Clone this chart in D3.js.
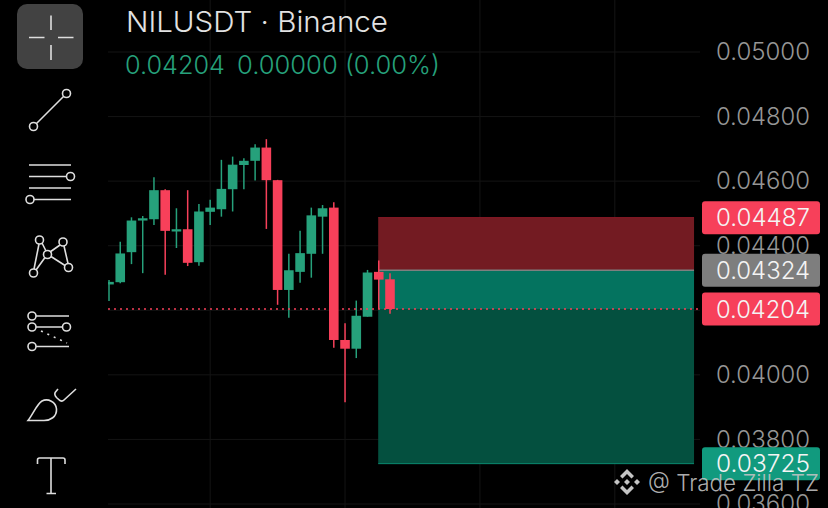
<!DOCTYPE html>
<html>
<head>
<meta charset="utf-8">
<script src="https://cdn.jsdelivr.net/npm/d3@7"></script>
<style>
  html, body { margin: 0; padding: 0; background: #000; overflow: hidden; }
  svg { display: block; }
  text { font-family: "Inter", "Roboto", sans-serif; font-weight: 300; }
</style>
</head>
<body>
<svg id="chart" width="828" height="508"></svg>
<script>
var opens  = [0.04280, 0.04287, 0.04380, 0.04478, 0.04482, 0.04572, 0.04444, 0.04451, 0.04349, 0.04505, 0.04513, 0.04575, 0.04650, 0.04663, 0.04704, 0.04603, 0.04263, 0.04319, 0.04375, 0.04490, 0.04518, 0.04108, 0.04081, 0.04180, 0.04319, 0.04296];
var highs  = [0.04294, 0.04412, 0.04488, 0.04492, 0.04612, 0.04575, 0.04516, 0.04572, 0.04529, 0.04542, 0.04666, 0.04676, 0.04671, 0.04714, 0.04730, 0.04604, 0.04375, 0.04446, 0.04518, 0.04526, 0.04535, 0.04160, 0.04230, 0.04325, 0.04354, 0.04315];
var lows   = [0.04229, 0.04284, 0.04343, 0.04315, 0.04464, 0.04310, 0.04393, 0.04337, 0.04338, 0.04464, 0.04490, 0.04506, 0.04575, 0.04602, 0.04452, 0.04217, 0.04177, 0.04285, 0.04301, 0.04375, 0.04084, 0.03915, 0.04052, 0.04180, 0.04204, 0.04189];
var closes = [0.04288, 0.04376, 0.04478, 0.04485, 0.04572, 0.04446, 0.04451, 0.04347, 0.04506, 0.04518, 0.04576, 0.04651, 0.04663, 0.04704, 0.04603, 0.04263, 0.04324, 0.04377, 0.04494, 0.04516, 0.04108, 0.04081, 0.04183, 0.04317, 0.04295, 0.04204];

var priceTicks = [0.05, 0.048, 0.046, 0.044, 0.04, 0.038, 0.036];
var gridPrices = [0.05, 0.048, 0.046, 0.044, 0.042, 0.04, 0.038, 0.036];
var gridBars = [9, 21, 33, 45];

var lastPrice = 0.04204;
var stopPrice = 0.04487;
var entryPrice = 0.04324;
var targetPrice = 0.03725;
var boxStart = 23.95, boxEnd = 52.05;

var green = "#26a17b", red = "#f7405a";

var svg = d3.select("#chart");

var x = d3.scaleLinear().domain([0, 25]).range([109, 390]);
var y = d3.scaleLinear().domain([0.05, 0.036]).range([52, 504]);
var fmt = d3.format(".5f");

svg.append("clipPath").attr("id", "plot")
  .append("rect").attr("x", 108).attr("y", 0).attr("width", 720).attr("height", 508);

// grid
var grid = svg.append("g").attr("stroke", "#141414").attr("stroke-width", 1);
grid.selectAll(".h").data(gridPrices).enter().append("line")
  .attr("x1", 108).attr("x2", 700)
  .attr("y1", d => y(d)).attr("y2", d => y(d));
grid.selectAll(".v").data(gridBars).enter().append("line")
  .attr("x1", d => x(d)).attr("x2", d => x(d))
  .attr("y1", 0).attr("y2", 508);

// long position box
var box = svg.append("g");
box.append("rect")
  .attr("x", x(boxStart)).attr("width", x(boxEnd) - x(boxStart))
  .attr("y", y(stopPrice)).attr("height", y(entryPrice) - y(stopPrice))
  .attr("fill", "#731b22");
box.append("line")
  .attr("x1", x(boxStart)).attr("x2", x(boxEnd))
  .attr("y1", y(stopPrice)).attr("y2", y(stopPrice))
  .attr("stroke", "#8c1a27").attr("stroke-width", 1);
box.append("rect")
  .attr("x", x(boxStart)).attr("width", x(boxEnd) - x(boxStart))
  .attr("y", y(entryPrice)).attr("height", y(lastPrice) - y(entryPrice))
  .attr("fill", "#04735f");
box.append("rect")
  .attr("x", x(boxStart)).attr("width", x(boxEnd) - x(boxStart))
  .attr("y", y(lastPrice)).attr("height", y(targetPrice) - y(lastPrice))
  .attr("fill", "#04503f");
box.append("line")
  .attr("x1", x(boxStart)).attr("x2", x(boxEnd))
  .attr("y1", y(entryPrice)).attr("y2", y(entryPrice))
  .attr("stroke", "#7f7f7f").attr("stroke-width", 1.5);
box.append("line")
  .attr("x1", x(boxStart)).attr("x2", x(boxEnd))
  .attr("y1", y(targetPrice)).attr("y2", y(targetPrice))
  .attr("stroke", "#0a8a70").attr("stroke-width", 1);

// candles
var candles = svg.append("g").attr("clip-path", "url(#plot)");
var bars = candles.selectAll("g").data(opens).enter().append("g")
  .attr("fill", (d, i) => closes[i] >= d ? green : red)
  .attr("stroke", (d, i) => closes[i] >= d ? green : red);
bars.append("line")
  .attr("x1", (d, i) => x(i)).attr("x2", (d, i) => x(i))
  .attr("y1", (d, i) => y(highs[i])).attr("y2", (d, i) => y(lows[i]))
  .attr("stroke-width", 1.5);
bars.append("rect")
  .attr("stroke", "none")
  .attr("x", (d, i) => x(i) - 4.8).attr("width", 9.6)
  .attr("y", (d, i) => y(Math.max(d, closes[i])))
  .attr("height", (d, i) => Math.abs(y(d) - y(closes[i])));

// last price line
svg.append("line")
  .attr("x1", 108).attr("x2", 700)
  .attr("y1", y(lastPrice)).attr("y2", y(lastPrice))
  .attr("stroke", red).attr("stroke-width", 1.5)
  .attr("stroke-dasharray", "2 4");

// price axis
var axis = d3.axisRight(y).tickValues(priceTicks).tickFormat(fmt).tickSize(0).tickPadding(0);
var axisG = svg.append("g").attr("transform", "translate(716,0)").call(axis);
axisG.select(".domain").remove();
axisG.selectAll("text")
  .attr("fill", "#969696")
  .style("font-size", "24px")
  .style("font-family", "Inter, Roboto, sans-serif")
  .style("font-weight", 300)
  .attr("textLength", 94).attr("lengthAdjust", "spacingAndGlyphs");

// price tags
var tagPrices = [stopPrice, entryPrice, lastPrice, targetPrice];
var tagColors = [red, "#7e7e7e", red, "#119a7e"];
var tags = svg.selectAll(".tag").data(tagPrices).enter().append("g").classed("tag", true);
tags.append("rect")
  .attr("x", 702).attr("width", 118)
  .attr("y", d => y(d) - 16.5).attr("height", 33)
  .attr("rx", 3)
  .attr("fill", (d, i) => tagColors[i]);
tags.append("text")
  .attr("x", 716).attr("y", d => y(d) + 8.7)
  .attr("fill", "#f4f4f4")
  .attr("font-size", 24)
  .attr("textLength", 94).attr("lengthAdjust", "spacingAndGlyphs")
  .text(d => fmt(d));

// header
svg.append("text").attr("x", 126).attr("y", 32)
  .attr("fill", "#e2e2e2").attr("font-size", 29)
  .attr("textLength", 262).attr("lengthAdjust", "spacingAndGlyphs")
  .text("NILUSDT · Binance");
svg.append("text").attr("x", 125).attr("y", 73.5)
  .attr("fill", green).attr("font-size", 25)
  .attr("textLength", 100).attr("lengthAdjust", "spacingAndGlyphs")
  .text(fmt(lastPrice));
svg.append("text").attr("x", 237).attr("y", 73.5)
  .attr("fill", green).attr("font-size", 25)
  .attr("textLength", 203).attr("lengthAdjust", "spacingAndGlyphs")
  .text("0.00000 (0.00%)");

// toolbar
var tools = svg.append("g")
  .attr("fill", "none").attr("stroke", "#dedede").attr("stroke-width", 1.6);
function circles(list) {
  list.forEach(c => tools.append("circle").attr("cx", c[0]).attr("cy", c[1]).attr("r", 4));
}
function paths(list) {
  list.forEach(p => tools.append("path").attr("d", p));
}
svg.insert("rect", "g").attr("x", 17).attr("y", 4).attr("width", 66).attr("height", 65)
  .attr("rx", 10).attr("fill", "#424242");
paths([
  "M51 15.5V30M51 45V60M29 37.5H44.5M58 37.5H73.5",
  "M36.5 123.5L63.5 96.5",
  "M29 165H71M29 176.5H66.5M29 188H71M34 199.5H71",
  "M39 244L34 269M42 243L46 251M36 270L45 257.5M51 256.5L65 265.5M60 245L50 252M64 246L68 263.5",
  "M36 316H69M36 327H62.5M36 346.5H69",
  "M28 420.5C33 414 37 404 42 401C48 398 56 402 56.5 409C57 417 50 420.5 44 420.5Z",
  "M58 389L55.5 392C54 394 55 396 57 398L60 400.5C61.5 401.5 63 401 64 400L76 389",
  "M37.5 464V460Q37.5 458 39.5 458H63Q65 458 65 460V464M51 458V493.5M46.5 493.5H56"
]);
circles([[33.5, 126.5], [66.5, 93.5], [70.5, 176.5], [30, 199.5],
  [39.5, 240], [63, 242], [47.5, 254.5], [33.5, 273], [68.5, 267.5],
  [32, 316], [32, 327], [66.5, 327], [32, 346.5]]);
tools.append("path").attr("d", "M41 331L67 343").attr("stroke-dasharray", "2 5");

// watermark
var logo = svg.append("g").attr("fill", "#c4c4c4").attr("transform", "translate(627,482)");
logo.append("path").attr("d", "M0 -13L7 -6L4.5 -3.5L0 -8L-4.5 -3.5L-7 -6Z");
logo.append("path").attr("d", "M0 13L7 6L4.5 3.5L0 8L-4.5 3.5L-7 6Z");
logo.append("path").attr("d", "M0 -3L3 0L0 3L-3 0Z");
logo.append("path").attr("d", "M-10 -3L-13 0L-10 3L-7 0Z");
logo.append("path").attr("d", "M10 -3L13 0L10 3L7 0Z");
svg.append("text").attr("x", 648).attr("y", 491)
  .attr("fill", "#c4c4c4").attr("fill-opacity", 0.9).attr("font-size", 23)
  .attr("textLength", 171).attr("lengthAdjust", "spacingAndGlyphs")
  .text("@ Trade Zilla TZ");
</script>
</body>
</html>
